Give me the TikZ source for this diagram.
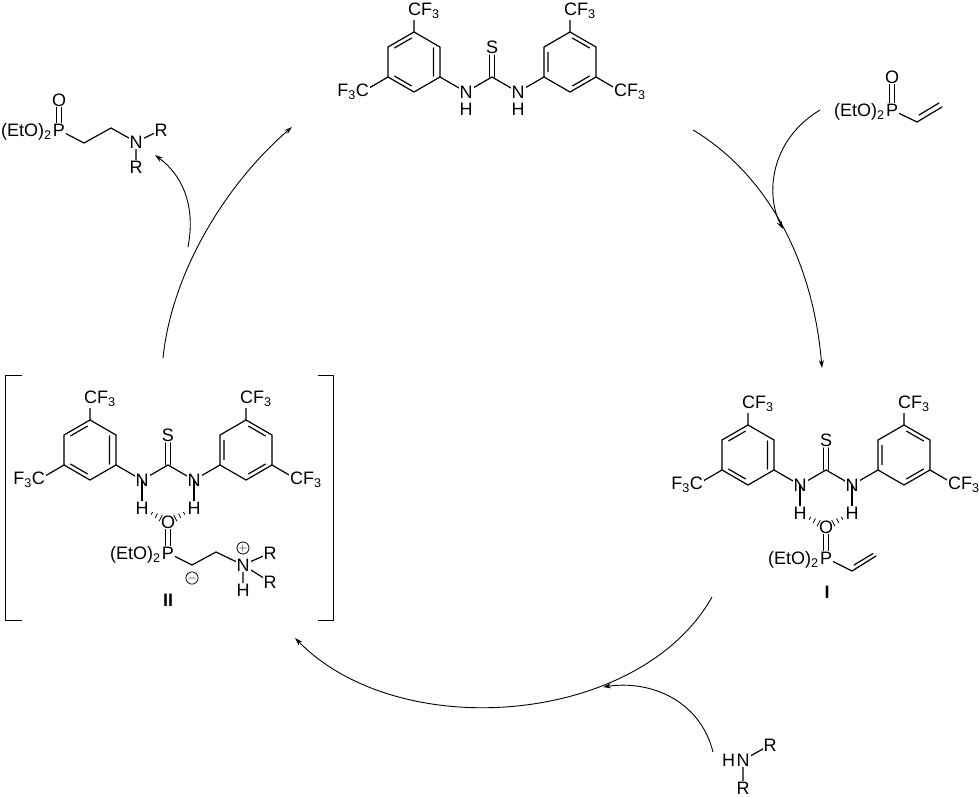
\documentclass[tikz,border=0pt]{standalone}
\usepackage{fontspec}
\setmainfont{Liberation Sans}
\usetikzlibrary{arrows.meta,calc}
\newcommand\ssb[1]{\textsubscript{#1}}
\tikzset{
 bond/.style={line width=1.2pt,line cap=round},
 atom/.style={fill=white,inner sep=1pt,font=\fontsize{18}{18}\selectfont},
 arr/.style={line width=0.9pt,-{Stealth[length=8pt,width=5pt]}},
 chg/.style={circle,draw,line width=0.8pt,inner sep=0pt,minimum size=12pt,font=\fontsize{12}{12}\selectfont},
 lbl/.style={inner sep=1pt,font=\fontsize{18}{18}\selectfont\bfseries}
}
% #1 shift, #2 prefix, #3 extra code
\newcommand\thiourea[3]{%
\begin{scope}[shift={#1}]
 \draw[bond] (-52,0) -- (-26,15) -- (0,0) -- (26,15) -- (52,0);
 \draw[bond] (-2.5,0) -- (-2.5,-22) (2.5,0) -- (2.5,-22);
 \draw[bond] (-78,-15) +(30:30) -- +(90:30) -- +(150:30) -- +(210:30) -- +(270:30) -- +(330:30) -- cycle;
 \draw[bond] (78,-15) +(30:30) -- +(90:30) -- +(150:30) -- +(210:30) -- +(270:30) -- +(330:30) -- cycle;
 \draw[bond] (-78,-15) +(264:24) -- +(216:24) +(324:24) -- +(36:24) +(96:24) -- +(144:24);
 \draw[bond] (78,-15) +(276:24) -- +(324:24) +(204:24) -- +(156:24) +(84:24) -- +(36:24);
 \draw[bond] (-78,-45) -- (-78,-64) (-104,0) -- (-128,14) (78,-45) -- (78,-64) (104,0) -- (128,14);
 \node[atom,anchor=west] at (-85,-66) {CF\ssb{3}};
 \node[atom,anchor=east] at (-122,15) {F\ssb{3}C};
 \node[atom,anchor=west] at (71,-66) {CF\ssb{3}};
 \node[atom,anchor=west] at (121,15) {CF\ssb{3}};
 \node[atom] (#2S) at (0,-30) {S};
 \node[atom] (#2NL) at (-26,15) {N};
 \node[atom] (#2NR) at (26,15) {N};
 #3
\end{scope}}
% H-bonded phosphonyl part
\newcommand\hbond[1]{%
 \draw[bond] (-26,15) -- (-26,43) (26,15) -- (26,43);
 \draw[bond] (-2.5,57) -- (-2.5,88) (2.5,57) -- (2.5,88);
 \node[atom] (#1HL) at (-26,43) {H};
 \node[atom] (#1HR) at (26,43) {H};
 \node[atom] (#1O) at (0,57) {O};
 \foreach \tt/\hl in {0.38/1.5,0.55/2.5,0.72/3.5}{
   \path ($(#1HL)!\tt!(#1O)$) coordinate (m);
   \draw[line width=0.8pt] ($(m)!\hl pt!90:(#1O)$) -- ($(m)!\hl pt!-90:(#1O)$);
   \path ($(#1HR)!\tt!(#1O)$) coordinate (m);
   \draw[line width=0.8pt] ($(m)!\hl pt!90:(#1O)$) -- ($(m)!\hl pt!-90:(#1O)$);
 }
}
\begin{document}
\begin{tikzpicture}[x=1pt,y=-1pt]
\useasboundingbox (0,0) rectangle (979,797);
% top catalyst
\thiourea{(492,77)}{t}{\node[atom] at (-26,32) {H}; \node[atom] at (26,32) {H};}
% complex I
\thiourea{(826,470)}{a}{%
 \hbond{a}
 \draw[bond] (0,88) -- (26,101) -- (50,86);
 \draw[bond] (28,95) -- (47,83.5);
 \node[atom] (aP) at (0,88) {P};
 \node[atom,anchor=base east,inner xsep=0pt] at (aP.base west) {(EtO)\ssb{2}};
 \node[lbl] at (1,122) {I};
}
% complex II
\thiourea{(168,465)}{b}{%
 \hbond{b}
 \draw[bond] (0,88) -- (24,100) -- (48,87) -- (75,100);
 \draw[bond] (75,100) -- (102,88) (75,100) -- (102,117) (75,100) -- (75,125);
 \node[atom] (bP) at (0,88) {P};
 \node[atom,anchor=base east,inner xsep=0pt] at (bP.base west) {(EtO)\ssb{2}};
 \node[atom] (bN) at (75,100) {N};
 \node[atom] at (102,88) {R};
 \node[atom] at (102,117) {R};
 \node[atom] at (75,125) {H};
 \node[chg] at (75,83) {$+$};
 \node[chg] at (24,113) {$-$};
 \node[lbl] at (0,135) {II};
}
% brackets
\draw[line width=1pt] (22,375) -- (5,375) -- (5,620) -- (22,620);
\draw[line width=1pt] (318,375) -- (333,375) -- (333,620) -- (318,620);
% product
\begin{scope}[shift={(4,0)}]
\draw[bond] (52.5,100) -- (52.5,130) (57.5,100) -- (57.5,130);
\draw[bond] (55,130) -- (80,143) -- (107,128) -- (132,142) -- (157,130) (132,142) -- (132,167);
\node[atom] at (55,100) {O};
\node[atom] (pP) at (55,130) {P};
\node[atom,anchor=base east,inner xsep=0pt] at (pP.base west) {(EtO)\ssb{2}};
\node[atom] (pN) at (132,142) {N};
\node[atom] at (157,130) {R};
\node[atom] at (132,167) {R};
\end{scope}
% vinylphosphonate
\draw[bond] (889.5,77) -- (889.5,110) (894.5,77) -- (894.5,110);
\draw[bond] (892,110) -- (917,122) -- (942,107) (919,115) -- (939,103);
\node[atom] at (892,77) {O};
\node[atom] (vP) at (892,110) {P};
\node[atom,anchor=base east,inner xsep=0pt] (vE) at (vP.base west) {(EtO)\ssb{2}};
% amine
\draw[bond] (743,760) -- (770,745) (743,760) -- (743,788);
\node[atom] (aN) at (743,760) {N};
\node[atom,anchor=base east,inner xsep=0pt] (aH) at (aN.base west) {H};
\node[atom] at (770,745) {R};
\node[atom] at (743,788) {R};
% cycle arrows
\coordinate (r1) at (693,130); \coordinate (r2) at (822,368);
\coordinate (b1) at (712,597); \coordinate (b2) at (295,638);
\coordinate (l1) at (163,358); \coordinate (l2) at (292,127);
\coordinate (vj) at (783,229); \coordinate (aj) at (603,687); \coordinate (pj) at (188,247);
\draw[arr] (r1) .. controls (760,170) and (812,250) .. (r2);
\draw[arr] (b1) .. controls (640,725) and (400,745) .. (b2);
\draw[arr] (l1) .. controls (172,270) and (228,182) .. (l2);
\draw[arr] (820,110) .. controls (770,140) and (765,195) .. (vj);
\draw[arr] (713,752) .. controls (700,700) and (650,680) .. (aj);
\draw[arr] (pj) .. controls (196,205) and (182,175) .. (155,155);
\end{tikzpicture}
\end{document}
